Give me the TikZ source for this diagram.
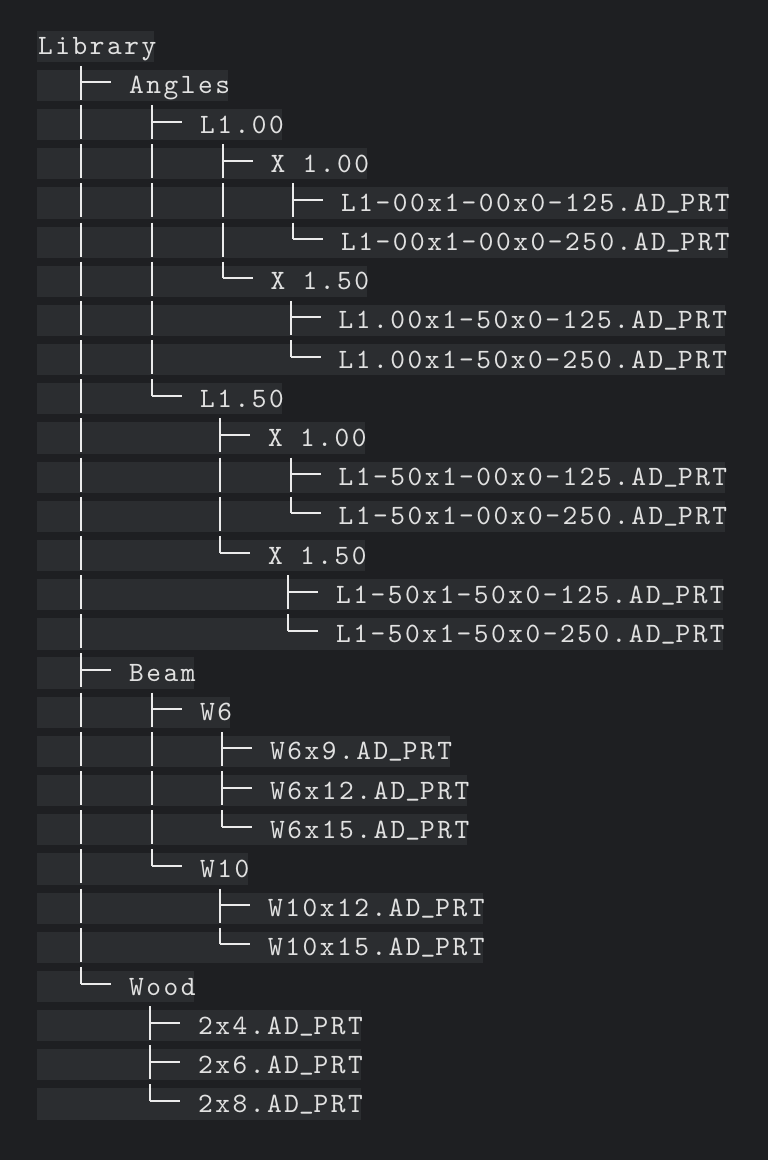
\documentclass[tikz,border=0pt]{standalone}
\usepackage{fontspec}
\newfontfamily\treefont{lmmono10-regular.otf}[LetterSpace=9]
\usetikzlibrary{backgrounds}
\definecolor{pagebg}{RGB}{30,31,34}
\definecolor{rowbg}{RGB}{43,45,48}
\definecolor{txtcol}{RGB}{225,225,225}
\definecolor{linecol}{RGB}{235,235,235}
\newcommand{\us}{\raisebox{3pt}{\_}}
\tikzset{
  txt/.style={anchor=base west, inner sep=0pt, text=txtcol, font=\treefont\fontsize{28}{32}\selectfont},
  rowfill/.style={fill=rowbg},
  treeline/.style={draw=linecol, line width=2pt},
  trunk/.style={treeline, dash pattern=on 34pt off 5.18pt},
}
% #1 name, #2 text x, #3 row index, #4 text
\newcommand{\trow}[4]{%
  \pgfmathsetmacro{\yc}{46.2+39.18*#3}%
  \node[txt] (#1) at (#2,\yc+8.5) {#4};
  \coordinate (#1-b) at (0,\yc+15.6);
  \coordinate (#1-t) at (37,\yc-15.6);
  \coordinate (#1-r) at ([xshift=-2pt]#1.east);
  \begin{scope}[on background layer]
    \fill[rowfill] (#1-t) rectangle (#1-r |- #1-b);
  \end{scope}
}
% vertical trunk from first child to last child
\newcommand{\branch}[2]{%
  \draw[trunk] ([xshift=-48pt,yshift=28.1pt]#1.base west) -- ([xshift=-48pt,yshift=11.5pt]#2.base west);
}
% horizontal tick into a child
\newcommand{\tick}[1]{%
  \draw[treeline] ([xshift=-48pt,yshift=11.5pt]#1.base west) -- ++(30,0);
}
\begin{document}
\begin{tikzpicture}[x=1pt,y=-1pt]
\useasboundingbox (0,0) rectangle (768,1160);
\begin{scope}[on background layer]
  \fill[pagebg] (0,0) rectangle (768,1160);
\end{scope}
\trow{lib}{38}{0}{Library}
\trow{angles}{129}{1}{Angles}
\trow{la}{200}{2}{L1.00}
\trow{lax}{270.5}{3}{X 1.00}
\trow{laxa}{341}{4}{L1-00x1-00x0-125.AD\us PRT}
\trow{laxb}{341}{5}{L1-00x1-00x0-250.AD\us PRT}
\trow{lay}{270.5}{6}{X 1.50}
\trow{laya}{338.5}{7}{L1.00x1-50x0-125.AD\us PRT}
\trow{layb}{338.5}{8}{L1.00x1-50x0-250.AD\us PRT}
\trow{lb}{200}{9}{L1.50}
\trow{lbx}{268}{10}{X 1.00}
\trow{lbxa}{338.5}{11}{L1-50x1-00x0-125.AD\us PRT}
\trow{lbxb}{338.5}{12}{L1-50x1-00x0-250.AD\us PRT}
\trow{lby}{268}{13}{X 1.50}
\trow{lbya}{336}{14}{L1-50x1-50x0-125.AD\us PRT}
\trow{lbyb}{336}{15}{L1-50x1-50x0-250.AD\us PRT}
\trow{beam}{129}{16}{Beam}
\trow{wsix}{200}{17}{W6}
\trow{wsixa}{270}{18}{W6x9.AD\us PRT}
\trow{wsixb}{270}{19}{W6x12.AD\us PRT}
\trow{wsixc}{270}{20}{W6x15.AD\us PRT}
\trow{wten}{200}{21}{W10}
\trow{wtena}{268}{22}{W10x12.AD\us PRT}
\trow{wtenb}{268}{23}{W10x15.AD\us PRT}
\trow{wood}{129}{24}{Wood}
\trow{wa}{198}{25}{2x4.AD\us PRT}
\trow{wb}{198}{26}{2x6.AD\us PRT}
\trow{wc}{198}{27}{2x8.AD\us PRT}
% Library
\branch{angles}{wood}
\tick{angles}\tick{beam}\tick{wood}
% Angles
\branch{la}{lb}
\tick{la}\tick{lb}
% L1.00
\branch{lax}{lay}
\tick{lax}\tick{lay}
\branch{laxa}{laxb}
\tick{laxa}\tick{laxb}
\branch{laya}{layb}
\tick{laya}\tick{layb}
% L1.50
\branch{lbx}{lby}
\tick{lbx}\tick{lby}
\branch{lbxa}{lbxb}
\tick{lbxa}\tick{lbxb}
\branch{lbya}{lbyb}
\tick{lbya}\tick{lbyb}
% Beam
\branch{wsix}{wten}
\tick{wsix}\tick{wten}
\branch{wsixa}{wsixc}
\tick{wsixa}\tick{wsixb}\tick{wsixc}
\branch{wtena}{wtenb}
\tick{wtena}\tick{wtenb}
% Wood
\branch{wa}{wc}
\tick{wa}\tick{wb}\tick{wc}
\end{tikzpicture}
\end{document}
